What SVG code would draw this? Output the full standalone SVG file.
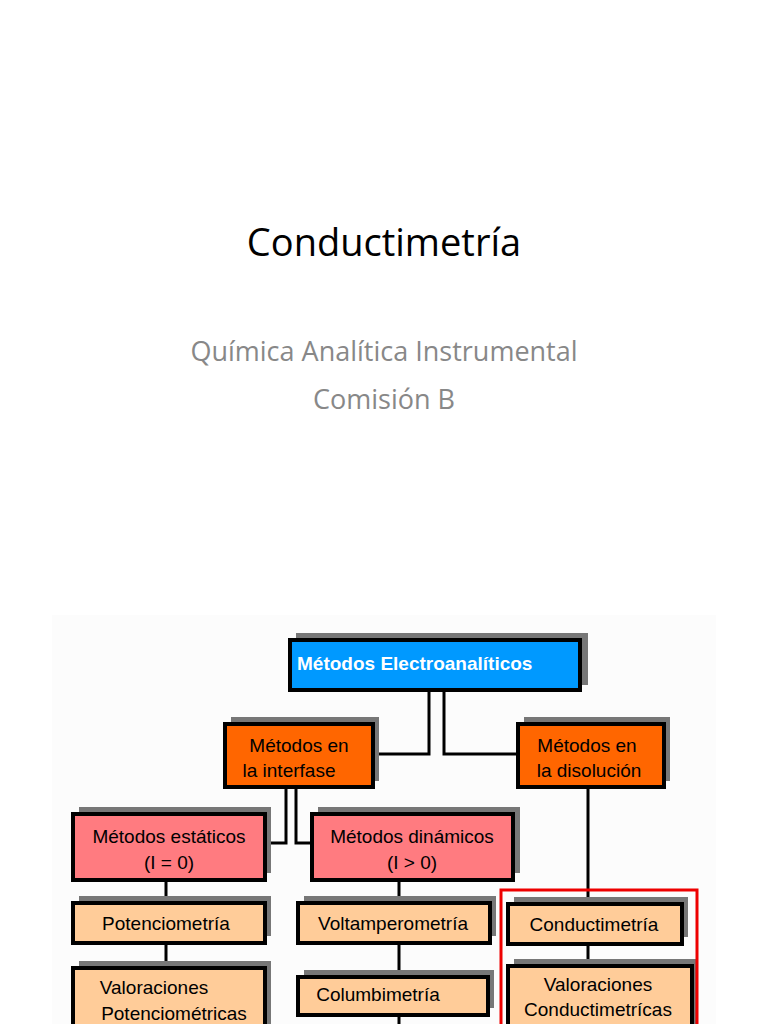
<svg xmlns="http://www.w3.org/2000/svg" width="768" height="1024" viewBox="0 0 768 1024">
<style>
.t{font-family:"Open Sans","Liberation Sans",sans-serif;text-anchor:middle}
.n{font-family:"Liberation Sans",Arial,sans-serif;font-size:19px;fill:#000;text-anchor:middle}
.b{stroke:#000;stroke-width:4}
.sh{fill:#777}
.c{stroke:#000;stroke-width:3;fill:none}
</style>
<rect width="768" height="1024" fill="#fff"/>
<text class="t" x="384" y="256" font-size="38" fill="#000">Conductimetría</text>
<text class="t" x="384" y="361" font-size="27" fill="#888">Química Analítica Instrumental</text>
<text class="t" x="384" y="409" font-size="27" fill="#888">Comisión B</text>
<rect x="52" y="615" width="664" height="409" fill="#fcfcfc"/>
<g id="connectors">
<path class="c" d="M429 690V754H373M444 690V754H518"/>
<path class="c" d="M286 787V843H265M296 787V843H312"/>
<path class="c" d="M588 787V904M588 944V966"/>
<path class="c" d="M166 880V903M166 943V968"/>
<path class="c" d="M399 880V903M399 943V977M399 1015V1024"/>
</g>
<g id="n1"><rect class="sh" x="296" y="633" width="292" height="52"/><rect class="b" x="290" y="640" width="290" height="50" fill="#0099ff"/><text x="297" y="670" font-family="Liberation Sans,Arial,sans-serif" font-weight="bold" font-size="19" fill="#fff">Métodos Electroanalíticos</text></g>
<g id="n2"><rect class="sh" x="231" y="717" width="148" height="64"/><rect class="b" x="225" y="724" width="148" height="63" fill="#ff6600"/><text class="n" x="299" y="752">Métodos en</text><text class="n" x="289" y="777">la interfase</text></g>
<g id="n3"><rect class="sh" x="524" y="717" width="146" height="64"/><rect class="b" x="518" y="724" width="146" height="63" fill="#ff6600"/><text class="n" x="587" y="752">Métodos en</text><text class="n" x="589" y="777">la disolución</text></g>
<g id="n4"><rect class="sh" x="79" y="807" width="192" height="66"/><rect class="b" x="73" y="814" width="192" height="66" fill="#ff7b80"/><text class="n" x="169" y="843">Métodos estáticos</text><text class="n" x="169" y="869">(I = 0)</text></g>
<g id="n5"><rect class="sh" x="318" y="807" width="202" height="66"/><rect class="b" x="312" y="814" width="201" height="66" fill="#ff7b80"/><text class="n" x="412" y="843">Métodos dinámicos</text><text class="n" x="412" y="869">(I &gt; 0)</text></g>
<g id="n6"><rect class="sh" x="79" y="896" width="192" height="40"/><rect class="b" x="73" y="903" width="192" height="40" fill="#ffcc99"/><text class="n" x="166" y="930">Potenciometría</text></g>
<g id="n7"><rect class="sh" x="304" y="896" width="192" height="40"/><rect class="b" x="298" y="903" width="192" height="40" fill="#ffcc99"/><text class="n" x="393" y="930">Voltamperometría</text></g>
<g id="n8"><rect class="sh" x="514" y="897" width="174" height="40"/><rect class="b" x="508" y="904" width="174" height="40" fill="#ffcc99"/><text class="n" x="594" y="931">Conductimetría</text></g>
<g id="n9"><rect class="sh" x="79" y="961" width="192" height="63"/><rect class="b" x="73" y="968" width="192" height="60" fill="#ffcc99"/><text class="n" x="154" y="994">Valoraciones</text><text class="n" x="174" y="1020">Potenciométricas</text></g>
<g id="n10"><rect class="sh" x="304" y="970" width="190" height="38"/><rect class="b" x="298" y="977" width="190" height="38" fill="#ffcc99"/><text class="n" x="378" y="1001">Columbimetría</text></g>
<g id="n11"><rect class="sh" x="514" y="959" width="184" height="65"/><rect class="b" x="508" y="966" width="184" height="62" fill="#ffcc99"/><text class="n" x="598" y="991">Valoraciones</text><text class="n" x="598" y="1016">Conductimetrícas</text></g>
<rect x="501" y="890" width="196" height="140" fill="none" stroke="#e00" stroke-width="3"/>
</svg>
